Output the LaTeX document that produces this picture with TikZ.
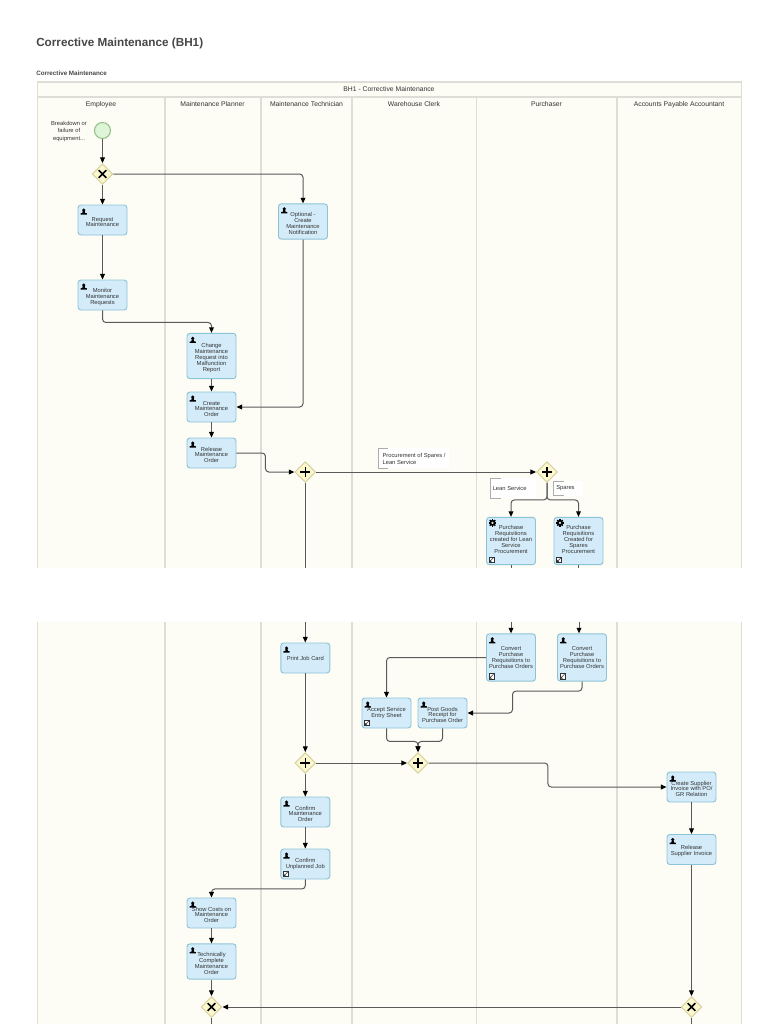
\documentclass[tikz,border=0pt]{standalone}
\usepackage{fontspec}
\setmainfont{Liberation Sans}
\usetikzlibrary{shapes.geometric,arrows.meta,calc}
\definecolor{lanefill}{HTML}{FDFDF5}
\definecolor{laneline}{HTML}{DEDED6}
\definecolor{taskfill}{HTML}{D4ECFA}
\definecolor{taskline}{HTML}{8CC3D6}
\definecolor{gatefill}{HTML}{FBF8D0}
\definecolor{gateline}{HTML}{D8D2A0}
\definecolor{startfill}{HTML}{DFF5D8}
\definecolor{startline}{HTML}{92BF86}
\definecolor{flowline}{HTML}{5A5A5A}
\definecolor{inktext}{HTML}{333333}
\newcommand{\lowered}{\rule{0pt}{6pt}}
\newcommand{\raisedtext}{\rule[-2.6pt]{0pt}{0pt}}
\tikzset{
  x=0.75pt,y=-0.75pt,
  lanerule/.style={draw=laneline,line width=0.95pt},
  lanehead/.style={font=\fontsize{5.1}{6}\selectfont,text=inktext,inner sep=0pt},
  task/.style={draw=taskline,fill=taskfill,line width=0.7pt,rounded corners=2.2pt,
    minimum width=36.75pt,inner sep=0pt,align=center,text=inktext,
    font=\fontsize{4.35}{4.4}\selectfont},
  gate/.style={diamond,draw=gateline,fill=gatefill,line width=0.8pt,minimum size=15.6pt,inner sep=0pt},
  startev/.style={circle,draw=startline,fill=startfill,line width=0.8pt,minimum size=12pt,inner sep=0pt},
  flow/.style={draw=flowline,line width=0.75pt,rounded corners=2.5pt,-{Triangle[length=4.2pt,width=3.6pt,color=black]}},
  plainflow/.style={draw=flowline,line width=0.75pt,rounded corners=2.5pt},
  note/.style={fill=white,inner sep=0pt,align=left,text=inktext,font=\fontsize{4.35}{5.2}\selectfont,anchor=north west},
  bracket/.style={draw=gray!65,line width=0.5pt},
  usericon/.pic={\fill[black] (0,-1.5) circle[radius=1.3pt] ;
    \fill[black] (-1.1,-0.5) -- (1.1,-0.5) -- (1.3,1.4) -- (3.2,1.8) -- (3.2,3) -- (-3.2,3) -- (-3.2,1.8) -- (-1.3,1.4) -- cycle;},
  gearicon/.pic={\foreach \a in {0,45,...,315} {\draw[black,line width=1pt] (\a:2.5) -- (\a:3.9);}
    \fill[black,even odd rule] (0,0) circle[radius=2.3pt] (0,0) circle[radius=1.1pt];},
  markicon/.pic={\draw[black!80,line width=0.3pt,fill=white] (-2.6,-2.6) rectangle (2.6,2.6);
    \draw[black!80,line width=0.4pt] (-2,2) -- (2,-2);
    \fill[black!80] (-2.4,-0.4) -- (0.4,2.4) -- (-2.4,2.4) -- cycle;},
  plusmark/.pic={\draw[black,line width=0.9pt] (-5,0) -- (5,0) (0,-5) -- (0,5);},
  crossmark/.pic={\draw[black,line width=1.25pt] (-3.8,-3.8) -- (3.8,3.8) (-3.8,3.8) -- (3.8,-3.8);}
}
\begin{document}
\begin{tikzpicture}
\useasboundingbox[fill=white] (0,0) rectangle (768,1024);

% heading
\node[anchor=west,inner sep=0pt,font=\bfseries\fontsize{8.8}{10}\selectfont,text=black!72] (title) at (36,43.5) {Corrective Maintenance (BH1)};
\node[anchor=west,inner sep=0pt,font=\bfseries\fontsize{4.7}{5}\selectfont,text=black!72] (subtitle) at (36,73) {Corrective Maintenance};

% pool, upper and lower parts
\fill[lanefill] (37.5,82) rectangle (741.5,568);
\fill[lanefill] (37.5,622) rectangle (741.5,1024);
\draw[lanerule] (37.5,568) -- (37.5,82) -- (741.5,82) -- (741.5,568);
\draw[lanerule] (37.5,97) -- (741.5,97);
\foreach \lx in {37.5,165,261,352,476.5,617,741.5} {
  \draw[lanerule] (\lx,97) -- (\lx,568);
  \draw[lanerule] (\lx,622) -- (\lx,1024);
}
\node[lanehead] (pool) at (389,89) {BH1 - Corrective Maintenance};
\node[lanehead] (l1) at (101,104.4) {Employee};
\node[lanehead] (l2) at (212.5,104.4) {Maintenance Planner};
\node[lanehead] (l3) at (306.5,104.4) {Maintenance Technician};
\node[lanehead] (l4) at (414,104.4) {Warehouse Clerk};
\node[lanehead] (l5) at (546.5,104.4) {Purchaser};
\node[lanehead] (l6) at (679,104.4) {Accounts Payable Accountant};

% events and gateways
\node[startev] (start) at (102.5,130.5) {};
\node[inner sep=0pt,align=center,text=inktext,font=\fontsize{4.35}{5.6}\selectfont] (startlabel) at (69,131.5) {Breakdown or\\failure of\\equipment...};
\node[gate] (g1) at (102.5,174) {};
\node[gate] (g2) at (305.3,472) {};
\node[gate] (g3) at (547,472) {};
\node[gate] (g4) at (305.3,763) {};
\node[gate] (g5) at (418,763) {};
\node[gate] (g6) at (211.5,1007) {};
\node[gate] (g7) at (691.5,1007) {};

% tasks
\node[task,minimum height=22.5pt] (req) at (102.5,220) {\lowered Request\\Maintenance};
\node[task,minimum height=22.5pt] (mon) at (102.5,295) {\lowered Monitor\\Maintenance\\Requests};
\node[task,minimum height=26.5pt] (opt) at (303,221.5) {\lowered Optional -\\Create\\Maintenance\\Notification};
\node[task,minimum height=34pt] (chg) at (211.5,356) {\lowered Change\\Maintenance\\Request into\\Malfunction\\Report};
\node[task,minimum height=22.5pt] (cre) at (211.5,407) {\lowered Create\\Maintenance\\Order};
\node[task,minimum height=22.5pt] (rel) at (211.5,453) {\lowered Release\\Maintenance\\Order};
\node[task,minimum height=35.5pt] (pr1) at (511,541) {Purchase\\Requisitions\\created for Lean\\Service\\Procurement\raisedtext};
\node[task,minimum height=35.5pt] (pr2) at (578.5,541) {Purchase\\Requisitions\\Created for\\Spares\\Procurement\raisedtext};
\node[task,minimum height=35.5pt] (cv1) at (511,657.5) {Convert\\Purchase\\Requisitions to\\Purchase Orders};
\node[task,minimum height=35.5pt] (cv2) at (582,657.5) {Convert\\Purchase\\Requisitions to\\Purchase Orders};
\node[task,minimum height=22.5pt] (acc) at (386.5,713) {Accept Service\\Entry Sheet};
\node[task,minimum height=22.5pt] (pos) at (442.5,713) {\lowered Post Goods\\Receipt for\\Purchase Order};
\node[task,minimum height=22.5pt] (job) at (305.3,658) {Print Job Card};
\node[task,minimum height=22.5pt] (inv) at (691.5,787) {\lowered Create Supplier\\Invoice with PO/\\GR Relation};
\node[task,minimum height=22.5pt] (rsi) at (691.5,849.5) {\lowered Release\\Supplier Invoice};
\node[task,minimum height=22.5pt] (cmo) at (305.3,812) {\lowered Confirm\\Maintenance\\Order};
\node[task,minimum height=22.5pt] (cuj) at (305.3,864) {Confirm\\Unplanned Job};
\node[task,minimum height=22.5pt] (sho) at (211.5,913) {\lowered Show Costs on\\Maintenance\\Order};
\node[task,minimum height=26.5pt] (tec) at (211.5,961.5) {\lowered Technically\\Complete\\Maintenance\\Order};

% free ends at the page break and the lower edge
\coordinate (g2out) at (305.3,568);
\coordinate (jobin) at (305.3,622);
\coordinate (pr1out) at (511,568);
\coordinate (cv1in) at (511,622);
\coordinate (pr2out) at (578.5,568);
\coordinate (cv2in) at (579,622);
\coordinate (g6out) at (211.5,1024);
\coordinate (g7out) at (691.5,1024);

% connectors
\draw[flow] (start) -- (g1);
\draw[flow] (g1) -- (req);
\draw[flow] (g1.east) -| (opt.north);
\draw[flow] (req) -- (mon);
\draw[flow] (mon.south) -- ++(0,12) -| (chg.north);
\draw[flow] (chg) -- (cre);
\draw[flow] (opt.south) |- (cre.east);
\draw[flow] (cre) -- (rel);
\draw[flow] (rel.east) -- ++(29,0) |- (g2.west);
\draw[flow] (g2) -- (g3);
\draw[plainflow] (g2.south) -- (g2out);
\draw[flow] (g3.south) -- ++(0,17) -| (pr1.north);
\draw[flow] (g3.south) -- ++(0,17) -| (pr2.north);
\draw[plainflow] (pr1.south) -- (pr1out);
\draw[plainflow] (pr2out |- pr2.south) -- (pr2out);
\draw[flow] (cv1in) -- (cv1.north);
\draw[flow] (cv2in) -- (cv2in |- cv2.north);
\draw[flow] (jobin) -- (job.north);
\draw[flow] (cv1.west) -| (acc.north);
\draw[flow] (cv2.south) -- ++(0,9.5) -- ++(-69.5,0) |- (pos.east);
\draw[flow] (acc.south) -- ++(0,13) -| (g5.north);
\draw[flow] (pos.south) -- ++(0,13) -| (g5.north);
\draw[flow] (job) -- (g4);
\draw[flow] (g4) -- (g5);
\draw[flow] (g5.east) -- ++(119,0) |- (inv.west);
\draw[flow] (g4) -- (cmo);
\draw[flow] (cmo) -- (cuj);
\draw[flow] (cuj.south) -- ++(0,9.5) -| (sho.north);
\draw[flow] (sho) -- (tec);
\draw[flow] (tec) -- (g6);
\draw[flow] (inv) -- (rsi);
\draw[flow] (rsi) -- (g7);
\draw[flow] (g7) -- (g6);
\draw[plainflow] (g6.south) -- (g6out);
\draw[plainflow] (g7.south) -- (g7out);

% annotations
\node[note,minimum width=53pt,minimum height=14.5pt] (n1) at (378,448) {\rule{0pt}{4.5pt}\hspace{0.6pt}Procurement of Spares /\\\hspace{0.6pt}Lean Service};
\node[note,minimum width=34pt,minimum height=15pt] (n2) at (490.5,478) {};
\node[anchor=west,inner sep=0pt,text=inktext,font=\fontsize{4.35}{5}\selectfont] (n2t) at (492.5,488) {Lean Service};
\node[note,minimum width=22pt,minimum height=10.7pt] (n3) at (553.5,481) {};
\node[anchor=west,inner sep=0pt,text=inktext,font=\fontsize{4.35}{5}\selectfont] (n3t) at (556,488) {Spares};
\foreach \n/\w in {n1/10,n2/10,n3/10} {
  \draw[bracket] ([shift={(\w,0)}]\n.north west) -- (\n.north west) -- (\n.south west) -- ([shift={(\w,0)}]\n.south west);
}

% markers
\foreach \n in {g2,g3,g4,g5} { \pic at (\n) {plusmark}; }
\foreach \n in {g1,g6,g7} { \pic at (\n) {crossmark}; }
\foreach \n in {req,mon,opt,chg,cre,rel,cv1,cv2,acc,pos,job,inv,rsi,cmo,cuj,sho,tec} {
  \pic at ([shift={(6.2,7)}]\n.north west) {usericon};
}
\foreach \n in {pr1,pr2} { \pic at ([shift={(6.5,6)}]\n.north west) {gearicon}; }
\foreach \n in {pr1,pr2,cv1,cv2,acc,cuj} { \pic at ([shift={(5.5,-5.5)}]\n.south west) {markicon}; }
\end{tikzpicture}
\end{document}
